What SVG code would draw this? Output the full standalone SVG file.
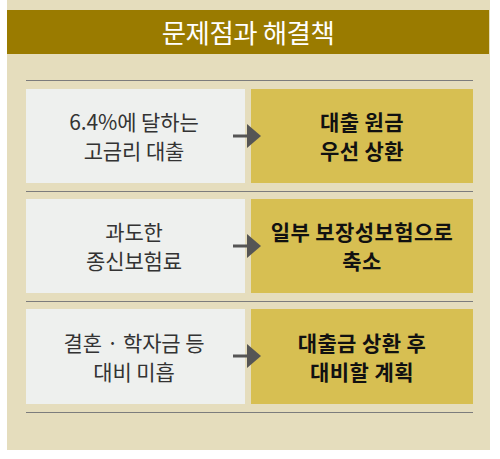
<svg xmlns="http://www.w3.org/2000/svg" width="500" height="459" viewBox="0 0 500 459">
<defs>
<style>
.bg{fill:#e5ddbd}
.hdr{fill:#9a7b00}
.lbox{fill:#eef0ee}
.rbox{fill:#d7bf52}
.sep{stroke:#7c7c7c;stroke-width:1.2}
.t{font-family:"Noto Sans CJK KR","Noto Sans",sans-serif;text-anchor:middle}
.lt{font-size:21px;fill:#333;font-weight:400;letter-spacing:-0.1px}
.rt{font-size:21px;fill:#111;font-weight:700;letter-spacing:0.4px}
.h{font-family:"Noto Sans CJK KR","Noto Sans",sans-serif;font-size:26.5px;fill:#fff;text-anchor:middle;letter-spacing:-0.5px}
.arr{fill:#555}
</style>
<g id="arrowShape"><rect x="233" y="-1.5" width="16" height="3"/><polygon points="247,-12 261,0 247,12"/></g>
</defs>
<rect x="0" y="0" width="500" height="459" fill="#fff"/>
<rect class="bg" x="7" y="0" width="483" height="450"/>
<rect class="hdr" x="7" y="10" width="482" height="44"/>
<text class="h" x="248" y="42.5">문제점과 해결책</text>
<g id="separators">
<line class="sep" x1="26" y1="80.5" x2="473" y2="80.5"/>
<line class="sep" x1="26" y1="191.5" x2="473" y2="191.5"/>
<line class="sep" x1="26" y1="301.5" x2="473" y2="301.5"/>
<line class="sep" x1="26" y1="412.5" x2="473" y2="412.5"/>
</g>
<g id="p1"><rect class="lbox" x="26" y="89" width="219" height="94"/>
<text class="t lt" x="134" y="129.5">6.4%에 달하는</text><text class="t lt" x="134" y="158.5">고금리 대출</text></g>
<g id="s1"><rect class="rbox" x="251" y="89" width="222" height="94"/>
<text class="t rt" x="362" y="129.5">대출 원금</text><text class="t rt" x="362" y="158.5">우선 상환</text></g>
<g id="p2"><rect class="lbox" x="26" y="199" width="219" height="94"/>
<text class="t lt" x="134" y="239.5">과도한</text><text class="t lt" x="134" y="268.5">종신보험료</text></g>
<g id="s2"><rect class="rbox" x="251" y="199" width="222" height="94"/>
<text class="t rt" x="362" y="239.5">일부 보장성보험으로</text><text class="t rt" x="362" y="268.5">축소</text></g>
<g id="p3"><rect class="lbox" x="26" y="309" width="219" height="95"/>
<text class="t lt" x="134" y="350.5">결혼 · 학자금 등</text><text class="t lt" x="134" y="379.5">대비 미흡</text></g>
<g id="s3"><rect class="rbox" x="251" y="309" width="222" height="95"/>
<text class="t rt" x="362" y="350.5">대출금 상환 후</text><text class="t rt" x="362" y="379.5">대비할 계획</text></g>
<g id="connectors" class="arr">
<use href="#arrowShape" y="136"/>
<use href="#arrowShape" y="246"/>
<use href="#arrowShape" y="356"/>
</g>
</svg>
